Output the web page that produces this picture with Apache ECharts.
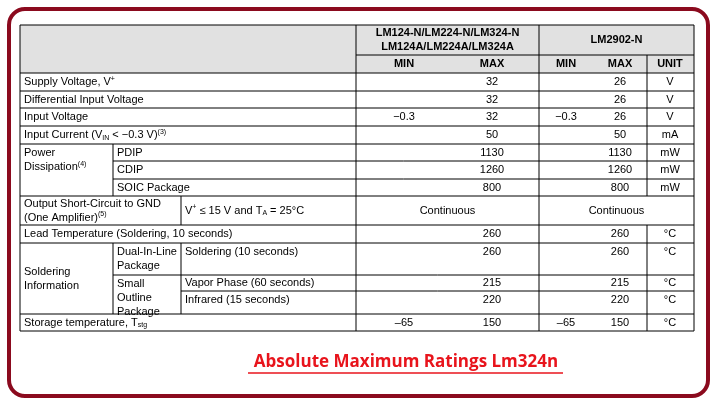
<!DOCTYPE html><html><head><meta charset="utf-8">
<script src="https://cdn.jsdelivr.net/npm/echarts@6/dist/echarts.min.js"></script>
<style>html,body{margin:0;padding:0;background:#fff}#c{width:713px;height:407px}</style></head><body><div id="c"></div>
<script>
// ---- data ----
const groupHeaders = ['{b|LM124-N/LM224-N/LM324-N}\n{b|LM124A/LM224A/LM324A}', '{b|LM2902-N}'];
const subHeaders = ['MIN', 'MAX', 'MIN', 'MAX', 'UNIT'];
const paramLabels = [
  'Supply Voltage, V{sup|+}',
  'Differential Input Voltage',
  'Input Voltage',
  'Input Current (V{sub|IN} < −0.3 V){sup|(3)}',
  'Power\nDissipation{sup|(4)}',
  'Output Short-Circuit to GND\n(One Amplifier){sup|(5)}',
  'Lead Temperature (Soldering, 10 seconds)',
  'Soldering\nInformation',
  'Storage temperature, T{sub|stg}'
];
const subLabels = ['PDIP', 'CDIP', 'SOIC Package', 'V{sup|+} ≤ 15 V and T{sub|A} = 25°C', 'Dual-In-Line\nPackage', 'Small\nOutline\nPackage'];
const condLabels = ['Soldering (10 seconds)', 'Vapor Phase (60 seconds)', 'Infrared (15 seconds)'];
// rows: [min324, max324, min2902, max2902, unit]
const rowValues = [
  ['', '32', '', '26', 'V'],
  ['', '32', '', '26', 'V'],
  ['−0.3', '32', '−0.3', '26', 'V'],
  ['', '50', '', '50', 'mA'],
  ['', '1130', '', '1130', 'mW'],
  ['', '1260', '', '1260', 'mW'],
  ['', '800', '', '800', 'mW'],
  ['Continuous', 'Continuous'],
  ['', '260', '', '260', '°C'],
  ['', '260', '', '260', '°C'],
  ['', '215', '', '215', '°C'],
  ['', '220', '', '220', '°C'],
  ['–65', '150', '–65', '150', '°C']
];
const titleText = 'Absolute Maximum Ratings Lm324n';

// ---- layout ----
const X = {l:20, a:113, b:181, c:356, d:539, e:647, r:694};
const valX = [404, 492, 566, 620, 670];
const Y = [25, 55, 73, 91, 108, 126, 144, 161, 179, 196, 225, 243, 275, 291, 314, 331];
const F = 'Liberation Sans, Arial, sans-serif';
const rich = {b:{fontWeight:'bold',fontSize:11,fontFamily:F,lineHeight:14},
  sup:{fontSize:7,fontFamily:F,padding:[0,0,6,0]}, sub:{fontSize:7,fontFamily:F,padding:[6,0,0,0]}};
const els = [];
function line(x1,y1,x2,y2){els.push({type:'line',shape:{x1,y1,x2,y2},style:{stroke:'#000',lineWidth:1}});}
function text(t,x,y,align,vAlign,bold){els.push({type:'text',x,y,style:{text:t,x:0,y:0,align:align||'left',verticalAlign:vAlign||'middle',
  font:(bold?'bold ':'')+'11px '+F,fill:'#000',lineHeight:14,rich}});}
// frame
els.push({type:'rect',shape:{x:9,y:9,width:699,height:387,r:16},style:{fill:'#fff',stroke:'#8b0a1e',lineWidth:4}});
// header bg
els.push({type:'rect',shape:{x:X.l,y:Y[0],width:X.r-X.l,height:Y[2]-Y[0]},style:{fill:'#e1e1e1'}});
// header text
text(groupHeaders[0],(X.c+X.d)/2,(Y[0]+Y[1])/2,'center','middle');
text(groupHeaders[1],(X.d+X.r)/2,(Y[0]+Y[1])/2,'center','middle');
subHeaders.forEach((s,i)=>text(s,valX[i],(Y[1]+Y[2])/2,'center','middle',true));
// grid lines
line(X.l,Y[0],X.r,Y[0]); line(X.c,Y[1],X.r,Y[1]);
const full=[2,3,4,5,6,9,10,11,14,15];
full.forEach(i=>line(X.l,Y[i],X.r,Y[i]));
[7,8].forEach(i=>line(X.a,Y[i],X.r,Y[i]));
line(X.b,Y[12],X.r,Y[12]); line(X.a,Y[12],X.b,Y[12]);
line(X.b,Y[13],X.r,Y[13]);
line(X.l,Y[0],X.l,Y[15]); line(X.r,Y[0],X.r,Y[15]);
line(X.c,Y[0],X.c,Y[15]); line(X.d,Y[0],X.d,Y[15]);
line(X.e,Y[1],X.e,Y[9]); line(X.e,Y[10],X.e,Y[15]);
line(X.a,Y[6],X.a,Y[9]); line(X.b,Y[9],X.b,Y[10]);
line(X.a,Y[11],X.a,Y[14]); line(X.b,Y[11],X.b,Y[14]);
// row label texts
const mid=i=>(Y[i]+Y[i+1])/2;
text(paramLabels[0],X.l+4,mid(2)); text(paramLabels[1],X.l+4,mid(3));
text(paramLabels[2],X.l+4,mid(4)); text(paramLabels[3],X.l+4,mid(5));
text(paramLabels[4],X.l+4,Y[6]+2,'left','top');
text(paramLabels[5],X.l+4,(Y[9]+Y[10])/2);
text(paramLabels[6],X.l+4,mid(10));
text(paramLabels[7],X.l+4,(Y[11]+Y[14])/2);
text(paramLabels[8],X.l+4,mid(14));
text(subLabels[0],X.a+4,mid(6)); text(subLabels[1],X.a+4,mid(7)); text(subLabels[2],X.a+4,mid(8));
text(subLabels[3],X.b+4,mid(9));
text(subLabels[4],X.a+4,Y[11]+2,'left','top');
text(subLabels[5],X.a+4,Y[12]+2,'left','top');
text(condLabels[0],X.b+4,Y[11]+9); text(condLabels[1],X.b+4,mid(12)); text(condLabels[2],X.b+4,Y[13]+9);
// values
const rowY=[mid(2),mid(3),mid(4),mid(5),mid(6),mid(7),mid(8),mid(9),mid(10),Y[11]+9,mid(12),Y[13]+9,mid(14)];
rowValues.forEach((r,i)=>{
  if(r.length===2){text(r[0],(X.c+X.d)/2,rowY[i],'center');text(r[1],(X.d+X.r)/2,rowY[i],'center');}
  else r.forEach((v,j)=>{if(v)text(v,valX[j],rowY[i],'center');});
});
// title
els.push({type:'text',x:406,y:362,style:{text:titleText,align:'center',verticalAlign:'middle',font:'bold 17px "Open Sans", sans-serif',fill:'#e8141c'}});
els.push({type:'line',shape:{x1:248,y1:373,x2:563,y2:373},style:{stroke:'#e8141c',lineWidth:1.5}});
const chart=echarts.init(document.getElementById('c'));
chart.setOption({animation:false,graphic:{elements:els}});
</script></body></html>
